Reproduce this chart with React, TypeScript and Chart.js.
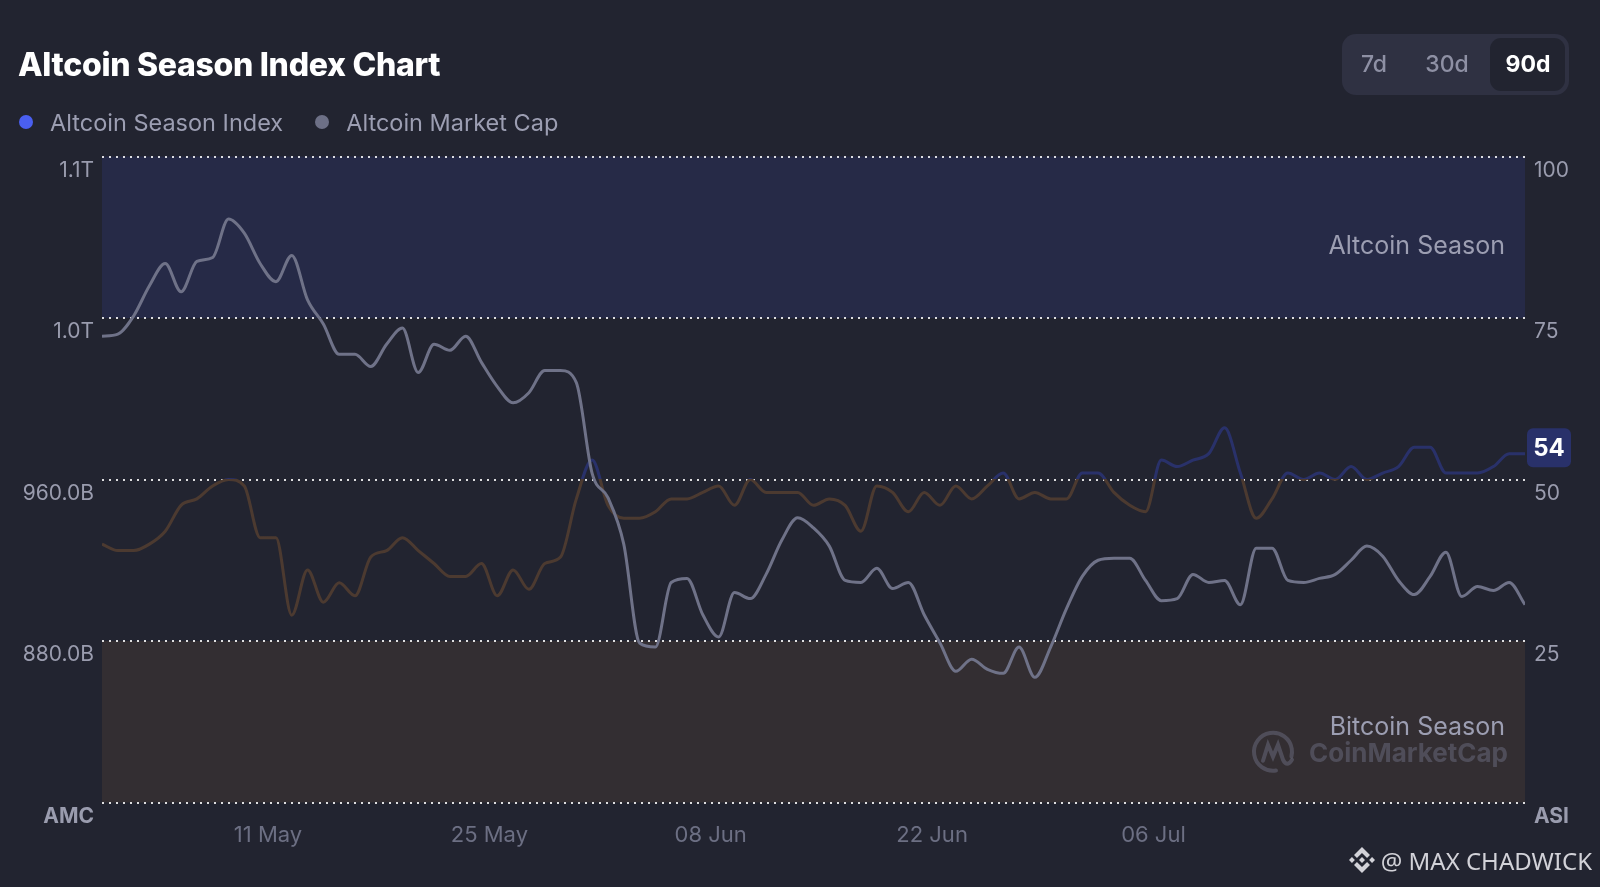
import { useEffect, useRef } from "react";
import { Chart, registerables, type ChartConfiguration, type Plugin } from "chart.js";

Chart.register(...registerables);

// first sample is 30 Apr at midday, one sample per day (91 days)
const START_DAY = Date.UTC(2025, 3, 30, 12);
const DAY_MS = 86400000;

const xTickDates = [
  Date.UTC(2025, 4, 11),
  Date.UTC(2025, 4, 25),
  Date.UTC(2025, 5, 8),
  Date.UTC(2025, 5, 22),
  Date.UTC(2025, 6, 6),
];
const xTickLabels = ["11 May", "25 May", "08 Jun", "22 Jun", "06 Jul"];

const altcoinSeasonIndex = [
  40, 39, 39, 40, 42, 46, 47, 49, 50, 49,
  41, 41, 29, 36, 31, 34, 32, 38, 39, 41,
  39, 37, 35, 35, 37, 32, 36, 33, 37, 38,
  47, 53, 46, 44, 44, 45, 47, 47, 48, 49,
  46, 50, 48, 48, 48, 46, 47, 46, 42, 49,
  48, 45, 48, 46, 49, 47, 49, 51, 47, 48,
  47, 47, 51, 51, 48, 46, 45, 53, 52, 53,
  54, 58, 51, 44, 47, 51, 50, 51, 50, 52,
  50, 51, 52, 55, 55, 51, 51, 51, 52, 54,
  54,
];

// billions of USD
const altcoinMarketCap = [
  1031, 1032, 1041, 1056, 1067, 1053, 1068, 1070, 1089, 1082,
  1067, 1058, 1071, 1049, 1037, 1022, 1022, 1016, 1027, 1035,
  1013, 1027, 1024, 1031, 1018, 1006, 998, 1003, 1014, 1014,
  1008, 963, 951, 928, 879, 877, 909, 911, 893, 882,
  904, 901, 913, 930, 941, 936, 927, 910, 909, 916,
  906, 909, 893, 879, 865, 871, 866, 864, 877, 862,
  877, 896, 912, 920, 921, 921, 910, 900, 901, 913,
  909, 910, 898, 926, 926, 910, 909, 911, 913, 920,
  927, 922, 910, 903, 912, 924, 902, 907, 905, 909,
  898,
];

const mcapTickLabels = ["AMC", "880.0B", "960.0B", "1.0T", "1.1T"];
const asiTickLabels = ["ASI", "25", "50", "75", "100"];
const ranges = ["7d", "30d", "90d"];

const BG = "#222430";
const ASI_ABOVE = "#29316a";
const ASI_BELOW = "#4c3a30";
const MCAP_COLOR = "#6f7288";
const FONT = "Inter, 'Noto Sans', sans-serif";

const asiColor = (context: any) => {
  const { chart } = context;
  const { chartArea, scales } = chart;
  if (!chartArea) return ASI_ABOVE;
  const y0 = scales.y.getPixelForValue(0);
  const y100 = scales.y.getPixelForValue(100);
  const g = chart.ctx.createLinearGradient(0, y0, 0, y100);
  g.addColorStop(0, ASI_BELOW);
  g.addColorStop(0.5, ASI_BELOW);
  g.addColorStop(0.5, ASI_ABOVE);
  g.addColorStop(1, ASI_ABOVE);
  return g;
};

// season bands, their labels and the watermark
const bandsPlugin: Plugin<"line"> = {
  id: "seasonBands",
  beforeDraw(chart) {
    const { ctx, chartArea: a, scales } = chart;
    const y = scales.y;
    const p100 = y.getPixelForValue(100);
    const p75 = y.getPixelForValue(75);
    const p25 = y.getPixelForValue(25);
    const p0 = y.getPixelForValue(0);
    ctx.save();
    ctx.fillStyle = "#262a47";
    ctx.fillRect(a.left, p100, a.width, p75 - p100);
    ctx.fillStyle = "#332e32";
    ctx.fillRect(a.left, p25, a.width, p0 - p25);

    ctx.font = `25px ${FONT}`;
    ctx.fillStyle = "#9c9eb2";
    ctx.textAlign = "right";
    ctx.textBaseline = "middle";
    ctx.fillText("Altcoin Season", a.right - 20, y.getPixelForValue(87.5) + 9);
    ctx.fillText("Bitcoin Season", a.right - 20, y.getPixelForValue(12.5) + 6);

    // CoinMarketCap watermark
    const wm = "rgba(120,122,142,0.42)";
    ctx.font = `bold 26px ${FONT}`;
    ctx.fillStyle = wm;
    ctx.fillText("CoinMarketCap", a.right - 17, y.getPixelForValue(12.5) + 32);
    const cx = a.right - 252;
    const cy = y.getPixelForValue(12.5) + 30;
    ctx.strokeStyle = wm;
    ctx.lineWidth = 4;
    ctx.lineCap = "round";
    ctx.beginPath();
    ctx.arc(cx, cy, 19, 0.45 * Math.PI, 2.08 * Math.PI);
    ctx.stroke();
    ctx.beginPath();
    ctx.moveTo(cx - 10, cy + 9);
    ctx.lineTo(cx - 5, cy - 7);
    ctx.lineTo(cx, cy + 5);
    ctx.lineTo(cx + 5, cy - 7);
    ctx.lineTo(cx + 10, cy + 8);
    ctx.quadraticCurveTo(cx + 14, cy + 16, cx + 19, cy + 8);
    ctx.stroke();
    ctx.restore();
  },
  afterDraw(chart) {
    const { ctx, chartArea: a, scales } = chart;
    const last = altcoinSeasonIndex[altcoinSeasonIndex.length - 1];
    const py = scales.y.getPixelForValue(last) - 6;
    const x = a.right + 2;
    const w = 44;
    const h = 39;
    ctx.save();
    ctx.fillStyle = "#29316a";
    ctx.beginPath();
    ctx.roundRect(x, py - h / 2, w, h, 6);
    ctx.fill();
    ctx.fillStyle = "#ffffff";
    ctx.font = `bold 24px ${FONT}`;
    ctx.textAlign = "center";
    ctx.textBaseline = "middle";
    ctx.fillText(String(Math.round(last)), x + w / 2, py + 1);
    ctx.restore();
  },
};

function SeasonChart() {
  const canvasRef = useRef<HTMLCanvasElement>(null);
  const chartRef = useRef<Chart | null>(null);

  useEffect(() => {
    if (!canvasRef.current) return;
    if (chartRef.current) chartRef.current.destroy();

    const xTickValues = xTickDates.map((d) => (d - START_DAY) / DAY_MS);

    const config: ChartConfiguration<"line"> = {
      type: "line",
      data: {
        datasets: [
          {
            label: "Altcoin Market Cap",
            data: altcoinMarketCap.map((v, i) => ({ x: i, y: v })),
            yAxisID: "y1",
            borderColor: MCAP_COLOR,
            borderWidth: 3,
            pointRadius: 0,
            cubicInterpolationMode: "monotone",
            order: 0,
          },
          {
            label: "Altcoin Season Index",
            data: altcoinSeasonIndex.map((v, i) => ({ x: i, y: v })),
            yAxisID: "y",
            borderColor: asiColor,
            borderWidth: 3,
            pointRadius: 0,
            cubicInterpolationMode: "monotone",
            order: 1,
          },
        ],
      },
      options: {
        responsive: true,
        maintainAspectRatio: false,
        animation: false,
        layout: { padding: { top: 156.5, left: 0, right: 0, bottom: 0 } },
        plugins: {
          legend: { display: false },
          tooltip: { enabled: false },
        },
        scales: {
          x: {
            type: "linear",
            min: 0,
            max: 90,
            grid: { display: false, drawTicks: false },
            border: { display: false },
            afterBuildTicks: (scale) => {
              scale.ticks = xTickValues.map((v) => ({ value: v }));
            },
            afterFit: (scale) => {
              scale.height = 84.5;
            },
            ticks: {
              autoSkip: false,
              maxRotation: 0,
              padding: 20,
              color: "#6c6f83",
              font: { family: FONT, size: 22 },
              callback: (_v, i) => xTickLabels[i],
            },
          },
          y1: {
            type: "linear",
            position: "left",
            min: 800,
            max: 1120,
            grid: { display: false, drawTicks: false },
            border: { display: false },
            afterFit: (scale) => {
              scale.width = 102;
            },
            ticks: {
              stepSize: 80,
              padding: 8,
              labelOffset: 14,
              color: "#9a9cae",
              font: (c: any) => ({ family: FONT, size: 21, weight: c.index === 0 ? "bold" : "normal" }),
              callback: (_v, i) => mcapTickLabels[i],
            },
          },
          y: {
            type: "linear",
            position: "right",
            min: 0,
            max: 100,
            grid: {
              color: "rgba(255,255,255,0.85)",
              lineWidth: 2,
              drawTicks: false,
            },
            border: { display: false, dash: [2, 5] },
            afterFit: (scale) => {
              scale.width = 75;
            },
            ticks: {
              stepSize: 25,
              padding: 9,
              labelOffset: 14,
              color: "#9a9cae",
              font: (c: any) => ({ family: FONT, size: 21, weight: c.index === 0 ? "bold" : "normal" }),
              callback: (_v, i) => asiTickLabels[i],
            },
          },
        },
      },
      plugins: [bandsPlugin],
    };

    chartRef.current = new Chart(canvasRef.current, config);

    return () => {
      if (chartRef.current) {
        chartRef.current.destroy();
        chartRef.current = null;
      }
    };
  }, []);

  return (
    <div style={{ position: "absolute", left: 0, top: 0, width: 1600, height: 887 }}>
      <canvas ref={canvasRef} />
    </div>
  );
}

function BinanceIcon() {
  return (
    <svg width="26" height="26" viewBox="0 0 126.61 126.61" style={{ display: "block" }}>
      <g fill="#d2d2d8">
        <path d="M38.73 53.2 63.3 28.63l24.58 24.58 14.3-14.3L63.3 0 24.43 38.88z" />
        <path d="M0 63.31 14.3 49l14.3 14.3-14.3 14.3z" />
        <path d="M38.73 73.41 63.3 98l24.58-24.59 14.3 14.3L63.3 126.61 24.43 87.74z" />
        <path d="M98 63.31 112.3 49l14.31 14.3-14.3 14.31z" />
        <path d="M77.81 63.3 63.3 48.78 48.81 63.28 63.3 77.79z" />
      </g>
    </svg>
  );
}

export default function App() {
  useEffect(() => {
    document.body.style.margin = "0";
    document.body.style.background = BG;
  }, []);

  return (
    <div
      style={{
        position: "relative",
        width: 1600,
        height: 887,
        background: BG,
        overflow: "hidden",
        fontFamily: FONT,
      }}
    >
      <SeasonChart />

      <div
        style={{
          position: "absolute",
          left: 18,
          top: 44,
          height: 42,
          lineHeight: "42px",
          fontSize: 32,
          fontWeight: 800,
          color: "#ffffff",
          letterSpacing: -0.3,
        }}
      >
        Altcoin Season Index Chart
      </div>

      <div
        style={{
          position: "absolute",
          left: 19,
          top: 107,
          height: 30,
          display: "flex",
          alignItems: "center",
          fontSize: 23.5,
          color: "#9c9eb2",
        }}
      >
        <span style={{ width: 14, height: 14, borderRadius: "50%", background: "#4a5ff0", marginRight: 17 }} />
        <span>Altcoin Season Index</span>
        <span
          style={{ width: 14, height: 14, borderRadius: "50%", background: "#6d7086", marginLeft: 32, marginRight: 17 }}
        />
        <span>Altcoin Market Cap</span>
      </div>

      <div
        style={{
          position: "absolute",
          left: 1342,
          top: 34,
          width: 227,
          height: 61,
          borderRadius: 14,
          background: "#2f3142",
        }}
      >
        <div
          style={{
            position: "absolute",
            left: 148,
            top: 4,
            width: 75,
            height: 53,
            borderRadius: 11,
            background: BG,
          }}
        />
        {ranges.map((r, i) => (
          <div
            key={r}
            style={{
              position: "absolute",
              left: [32, 105, 186][i] - 40,
              width: 80,
              top: 0,
              height: 61,
              lineHeight: "61px",
              textAlign: "center",
              fontSize: 23,
              fontWeight: i === 2 ? 700 : 500,
              color: i === 2 ? "#ffffff" : "#8e90a4",
            }}
          >
            {r}
          </div>
        ))}
      </div>

      <div
        style={{
          position: "absolute",
          right: 8,
          top: 845,
          height: 30,
          display: "flex",
          alignItems: "center",
          gap: 6,
          fontFamily: "'Noto Sans', 'Open Sans', sans-serif",
          fontSize: 24,
          color: "#d2d2d8",
        }}
      >
        <BinanceIcon />
        <span>@ MAX CHADWICK</span>
      </div>
    </div>
  );
}
